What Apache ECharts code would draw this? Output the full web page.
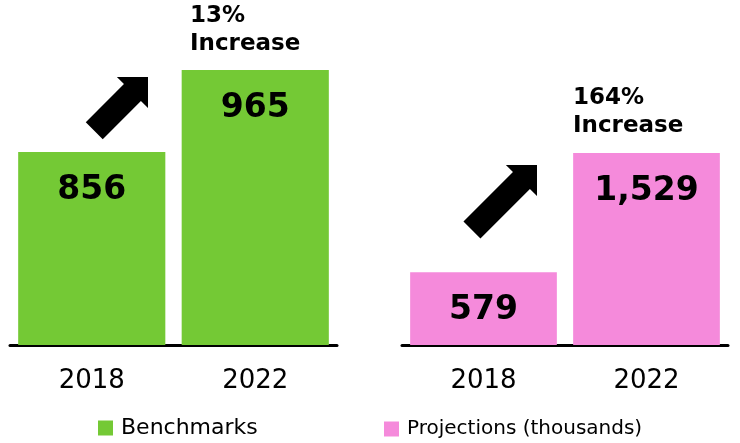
<!DOCTYPE html>
<html><head><meta charset="utf-8">
<script src="https://cdn.jsdelivr.net/npm/echarts@6/dist/echarts.min.js"></script>
<style>html,body{margin:0;padding:0;background:#fff}#c{width:740px;height:443px}</style>
</head><body><div id="c"></div>
<script>
const years = ['2018', '2022'];
const benchmarks = [856, 965];
const projections = [579, 1529];
const benchmarksName = 'Benchmarks';
const projectionsName = 'Projections (thousands)';
const benchmarksNote = '13%\nIncrease';
const projectionsNote = '164%\nIncrease';

const FONT = '"DejaVu Sans"';
const green = '#74C935';
const pink = '#F58ADB';

const chart = echarts.init(document.getElementById('c'), null, {renderer: 'canvas'});

function arrow(tipX, tipY, len) {
  const h = 22, hw = 22, sw = 12;
  const local = [[0,0],[-h,-hw],[-h,-sw],[-len,-sw],[-len,sw],[-h,sw],[-h,hw]];
  const c = Math.SQRT1_2;
  const pts = local.map(([x,y]) => [tipX + x*c + y*c, tipY - x*c + y*c]);
  return {type:'polygon', shape:{points: pts}, style:{fill:'#000'}, silent:true};
}

const valueLabel = {
  show: true, position: 'insideTop', distance: 22,
  fontFamily: FONT, fontWeight: 'bold', fontSize: 33, color: '#000',
  formatter: p => p.value.toLocaleString('en-US')
};

const xAxisCommon = {
  type: 'category', data: years,
  axisLine: {lineStyle: {color: '#000', width: 3}},
  axisTick: {show: false},
  axisLabel: {fontFamily: FONT, fontSize: 26, color: '#000', margin: 23}
};

chart.setOption({
  animation: false,
  grid: [
    {left: 10, right: 403, top: 70, bottom: 98},
    {left: 402, right: 12, top: 153, bottom: 98}
  ],
  xAxis: [
    Object.assign({gridIndex: 0}, xAxisCommon),
    Object.assign({gridIndex: 1}, xAxisCommon)
  ],
  yAxis: [
    {gridIndex: 0, type: 'value', min: 600, max: 965, show: false, splitLine: {show: false}},
    {gridIndex: 1, type: 'value', min: 0, max: 1529, show: false, splitLine: {show: false}}
  ],
  legend: [
    {data: [benchmarksName], left: 93, top: 412, itemWidth: 15, itemHeight: 15, icon: 'rect',
     textStyle: {fontFamily: FONT, fontSize: 22, color: '#000', padding: [0,0,0,3]}},
    {data: [projectionsName], left: 379, top: 414, itemWidth: 15, itemHeight: 15, icon: 'rect',
     textStyle: {fontFamily: FONT, fontSize: 20, color: '#000', padding: [0,0,0,3]}}
  ],
  series: [
    {name: benchmarksName, type: 'bar', xAxisIndex: 0, yAxisIndex: 0, data: benchmarks,
     barCategoryGap: '10%', itemStyle: {color: green}, label: valueLabel},
    {name: projectionsName, type: 'bar', xAxisIndex: 1, yAxisIndex: 1, data: projections,
     barCategoryGap: '10%', itemStyle: {color: pink}, label: valueLabel}
  ],
  graphic: [
    {type: 'text', left: 190, top: 2, silent: true,
     style: {text: benchmarksNote, fontFamily: FONT, fontWeight: 'bold', fontSize: 23, lineHeight: 28, fill: '#000'}},
    {type: 'text', left: 573, top: 84, silent: true,
     style: {text: projectionsNote, fontFamily: FONT, fontWeight: 'bold', fontSize: 23, lineHeight: 28, fill: '#000'}},
    arrow(148, 77, 76),
    arrow(537, 165, 92)
  ]
});
</script></body></html>
